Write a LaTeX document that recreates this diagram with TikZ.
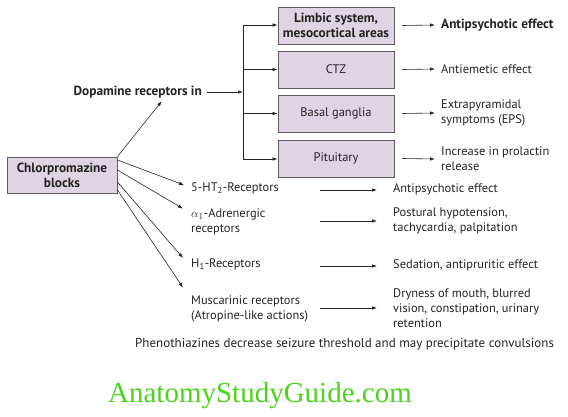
\documentclass[tikz,border=0pt]{standalone}
\usepackage{fontspec}
\setmainfont{PT Sans}
\newfontfamily\marcafont{Liberation Serif}
\usetikzlibrary{arrows.meta}
\definecolor{lilas}{RGB}{222,212,228}
\definecolor{borda}{RGB}{95,90,95}
\definecolor{texto}{RGB}{35,35,35}
\definecolor{verde}{RGB}{75,212,25}
\newcommand{\negrito}[1]{{\fontsize{13.3}{14}\selectfont\bfseries #1}}
\begin{document}
\begin{tikzpicture}[x=1pt, y=-1pt,
        caixa/.style={shape=rectangle, draw=borda, fill=lilas, line width=0.9pt, align=center, text=texto},
        rotulo/.style={inner sep=1pt, align=left, text=texto},
        seta/.style={-{Latex[length=5pt, width=3.5pt]}, line width=0.6pt, draw=texto},
        linha/.style={line width=0.6pt, draw=texto},
        font=\fontsize{12.4}{15}\selectfont,
    ]
    \useasboundingbox (0,0) rectangle (568,417);

    \node[caixa, minimum width=110, minimum height=36, inner sep=1pt] (cpz) at (62,175) {\negrito{Chlorpromazine}\\\negrito{blocks}};
    \node[rotulo, anchor=east] (dop) at (203,92) {\negrito{Dopamine receptors in}};

    \node[caixa, minimum width=116, minimum height=37, inner sep=1pt] (limbic) at (336,25.5) {\negrito{Limbic system,}\\\negrito{mesocortical areas}};
    \node[caixa, minimum width=116, minimum height=37] (ctz) at (336,69.5) {CTZ};
    \node[caixa, minimum width=116, minimum height=37] (basal) at (336,113.5) {Basal ganglia};
    \node[caixa, minimum width=116, minimum height=37] (pit) at (336,158.5) {Pituitary};

    \node[rotulo, anchor=west] (elimbic) at (440,25) {\negrito{Antipsychotic effect}};
    \node[rotulo, anchor=west] (ectz) at (440,69) {Antiemetic effect};
    \node[rotulo, anchor=west] (ebasal) at (440,113) {Extrapyramidal\\symptoms (EPS)};
    \node[rotulo, anchor=west] (epit) at (440,159) {Increase in prolactin\\release};

    \node[rotulo, anchor=west] (ht) at (190,188) {5-HT\textsubscript{2}-Receptors};
    \node[rotulo, anchor=west] (alfa) at (190,222) {$\alpha_1$-Adrenergic\\receptors};
    \node[rotulo, anchor=west] (hum) at (190,264) {H\textsubscript{1}-Receptors};
    \node[rotulo, anchor=west] (musc) at (190,309) {Muscarinic receptors\\(Atropine-like actions)};

    \node[rotulo, anchor=west] (eht) at (392,189) {Antipsychotic effect};
    \node[rotulo, anchor=west] (ealfa) at (392,221) {Postural hypotension,\\tachycardia, palpitation};
    \node[rotulo, anchor=west] (ehum) at (392,265) {Sedation, antipruritic effect};
    \node[rotulo, anchor=west] (emusc) at (392,308) {Dryness of mouth, blurred\\vision, constipation, urinary\\retention};

    \node[rotulo, anchor=west, font=\fontsize{13}{15}\selectfont] (nota) at (134,344) {Phenothiazines decrease seizure threshold and may precipitate convulsions};
    \node[text=verde, font=\marcafont\fontsize{29}{31}\selectfont] (marca) at (260,396) {AnatomyStudyGuide.com};

    \coordinate (b1) at (243,25);
    \coordinate (bm) at (243,92);
    \coordinate (b4) at (243,159);

    \draw[seta] (cpz.north east) -- ([xshift=24pt, yshift=-2pt]dop.south);
    \draw[seta] ([xshift=4pt]dop.east) -- (bm);
    \draw[linha] (b1) -- (b4);
    \draw[seta] (b1) -- (b1 -| limbic.west);
    \draw[seta] (ctz.west -| b1) -- (ctz.west);
    \draw[seta] (basal.west -| b1) -- (basal.west);
    \draw[seta] (b4) -- (b4 -| pit.west);

    \draw[seta] ([xshift=8pt]limbic.east) -- ([xshift=-5pt]elimbic.west);
    \draw[seta] ([xshift=8pt]ctz.east) -- ([xshift=-5pt]ectz.west);
    \draw[seta] ([xshift=8pt]basal.east) -- ([xshift=-5pt]ebasal.west);
    \draw[seta] ([xshift=8pt]pit.east) -- ([xshift=-5pt]epit.west);

    \draw[seta] ([yshift=15pt]cpz.east) -- ([xshift=-6pt, yshift=3pt]ht.west);
    \draw[seta] ([yshift=5pt]cpz.east) -- ([xshift=-7pt, yshift=-1pt]alfa.north west);
    \draw[seta] ([yshift=-7pt]cpz.east) -- ([xshift=-7pt, yshift=6pt]hum.west);
    \draw[seta] ([yshift=-15pt]cpz.east) -- ([xshift=-7pt, yshift=7pt]musc.north west);

    \draw[seta] ([xshift=-72pt, yshift=-1pt]eht.west) -- ([xshift=-15pt, yshift=-1pt]eht.west);
    \draw[seta] ([xshift=-72pt]ealfa.west) -- ([xshift=-15pt]ealfa.west);
    \draw[seta] ([xshift=-72pt, yshift=-1pt]ehum.west) -- ([xshift=-15pt, yshift=-1pt]ehum.west);
    \draw[seta] ([xshift=-72pt]emusc.west) -- ([xshift=-15pt]emusc.west);

\end{tikzpicture}
\end{document}
